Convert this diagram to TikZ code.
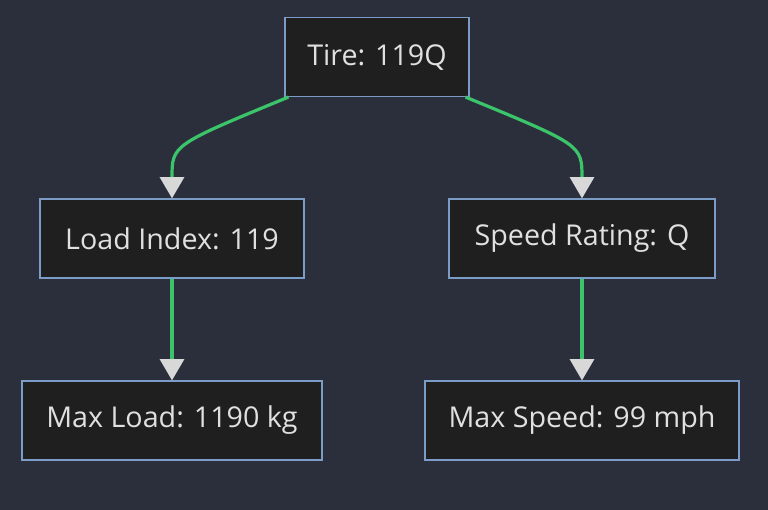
\documentclass[tikz,border=0pt]{standalone}
\usepackage{fontspec}
\setmainfont{Open Sans}
\usetikzlibrary{arrows.meta}
\definecolor{bg}{HTML}{2A2F3B}
\definecolor{nodefill}{HTML}{1F1F1F}
\definecolor{nodeline}{HTML}{7A9CC6}
\definecolor{txt}{HTML}{E0E0E0}
\definecolor{edge}{HTML}{3CC46A}
\definecolor{tip}{HTML}{D8D8D8}
\begin{document}
\begin{tikzpicture}[x=0.75pt,y=-0.75pt,
  box/.style={draw=nodeline,fill=nodefill,text=txt,line width=0.9pt,font=\fontsize{21.5}{24}\selectfont,minimum height=59.25pt,inner sep=0pt},
  link/.style={draw=edge,line width=2.4pt,-{Triangle[length=16pt,width=18pt,color=tip]}}]
\fill[bg] (0,0) rectangle (768,510);
\node[box,minimum width=138pt] (tire) at (377,57) {Tire: 119Q};
\node[box,minimum width=198pt] (li) at (172,238.5) {Load Index: 119};
\node[box,minimum width=199.5pt] (sr) at (582,238.5) {Speed Rating: Q};
\node[box,minimum width=225pt] (ml) at (172,420.5) {Max Load: 1190 kg};
\node[box,minimum width=235.5pt] (ms) at (582,420.5) {Max Speed: 99 mph};
\draw[link] ([xshift=3pt]tire.south west) .. controls (172,145) .. (li.north);
\draw[link] ([xshift=-3pt]tire.south east) .. controls (582,145) .. (sr.north);
\draw[link,line width=2.4pt] (li.south) -- (ml.north);
\draw[link,line width=2.4pt] (sr.south) -- (ms.north);
\end{tikzpicture}
\end{document}
